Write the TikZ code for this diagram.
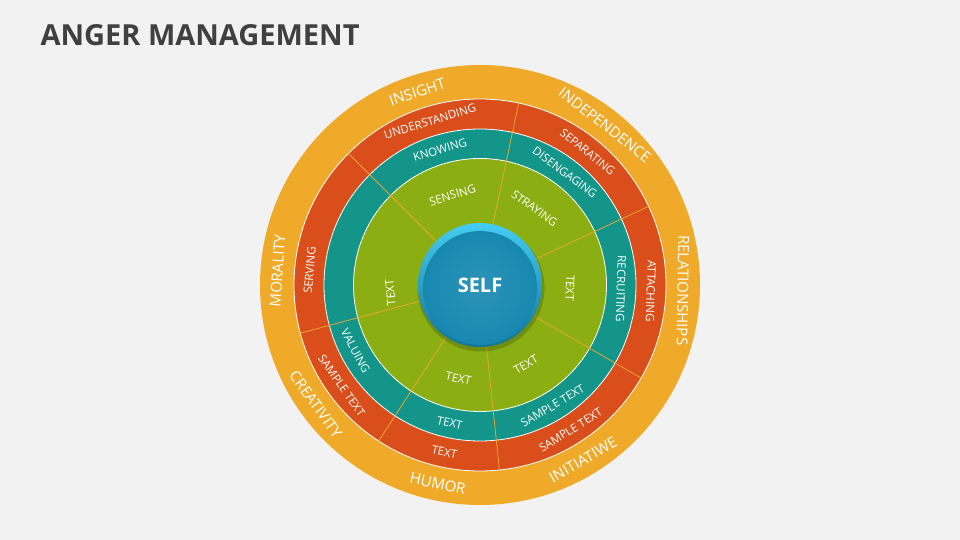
\documentclass[tikz,border=0pt]{standalone}
\usepackage{fontspec}
\setmainfont{Open Sans}
\definecolor{bg}{HTML}{F2F2F2}
\definecolor{ora}{HTML}{F0AA2A}
\definecolor{red}{HTML}{D94E1B}
\definecolor{tea}{HTML}{13958A}
\definecolor{gre}{HTML}{8BAF12}
\definecolor{blu}{HTML}{1688B0}
\definecolor{bluL}{HTML}{45CDF2}
\definecolor{ttl}{HTML}{404040}
\definecolor{div}{HTML}{E9A532}
\begin{document}
\begin{tikzpicture}[x=1pt,y=1pt,
  ring/.style={draw=white,line width=0.8pt},
  lab/.style={text=white,font=\fontsize{#1}{#1}\selectfont,inner sep=0pt},
  divl/.style={draw=div,line width=0.8pt}]
\fill[bg] (0,0) rectangle (960,540);
\useasboundingbox (0,0) rectangle (960,540);
\node[anchor=west,text=ttl,font=\fontsize{29}{29}\selectfont\bfseries] (title) at (37,505) {ANGER MANAGEMENT};
\begin{scope}[shift={(480,255)}]
\fill[ora] (0,0) circle (220);
\draw[ring,fill=red] (0,0) circle (186);
\draw[ring,fill=tea] (0,0) circle (156);
\draw[ring,fill=gre] (0,0) circle (126.5);
\foreach \a in {135,78,25,-30,-84,-123,195} \draw[divl] (\a:62) -- (\a:186);
% orange
\node[lab=15,rotate=18] (o1) at (108:203) {INSIGHT};
\node[lab=15,rotate=-38] (o2) at (52:203) {INDEPENDENCE};
\node[lab=15,rotate=-91] (o3) at (-1.5:203) {RELATIONSHIPS};
\node[lab=15,rotate=86] (o4) at (176:203) {MORALITY};
\node[lab=15,rotate=-54] (o5) at (216:203) {CREATIVITY};
\node[lab=15,rotate=-12] (o6) at (258:203) {HUMOR};
\node[lab=15,rotate=30] (o7) at (300.5:203) {INITIATIWE};
% red
\node[lab=11.5,rotate=17] (r1) at (107:171) {UNDERSTANDING};
\node[lab=11.5,rotate=-39] (r2) at (51:171) {SEPARATING};
\node[lab=11.5,rotate=-92] (r3) at (-2:171) {ATTACHING};
\node[lab=11.5,rotate=85] (r4) at (175:171) {SERVING};
\node[lab=11.5,rotate=-55] (r5) at (216:171) {SAMPLE TEXT};
\node[lab=11.5,rotate=-12] (r6) at (258:171) {TEXT};
\node[lab=11.5,rotate=32] (r7) at (302:171) {SAMPLE TEXT};
% teal
\node[lab=11.5,rotate=16.5] (t1) at (106.5:141) {KNOWING};
\node[lab=11.5,rotate=-37] (t2) at (53:141) {DISENGAGING};
\node[lab=11.5,rotate=-91.6] (t3) at (-1.6:141) {RECRUITING};
\node[lab=11.5,rotate=-62] (t4) at (208:141) {VALUING};
\node[lab=11.5,rotate=-12] (t5) at (257.6:141) {TEXT};
\node[lab=11.5,rotate=31] (t6) at (301:141) {SAMPLE TEXT};
% green
\node[lab=11.5,rotate=17] (g1) at (107:94) {SENSING};
\node[lab=11.5,rotate=-35.5] (g2) at (54.5:94) {STRAYING};
\node[lab=11.5,rotate=-92] (g3) at (-2:90) {TEXT};
\node[lab=11.5,rotate=95] (g4) at (185:90) {TEXT};
\node[lab=11.5,rotate=-13] (g5) at (257:96) {TEXT};
\node[lab=11.5,rotate=30] (g6) at (300:92) {TEXT};
% self
\fill[black,opacity=0.18] (1,-3) circle (63.5);
\shade[top color=bluL,bottom color=blu!85!black] (0,0) circle (62);
\shade[inner color=blu!90!white,outer color=blu] (0,-3) circle (57);
\node[text=white,font=\fontsize{20}{20}\selectfont\bfseries] (self) at (0,0) {SELF};
\end{scope}
\end{tikzpicture}
\end{document}
